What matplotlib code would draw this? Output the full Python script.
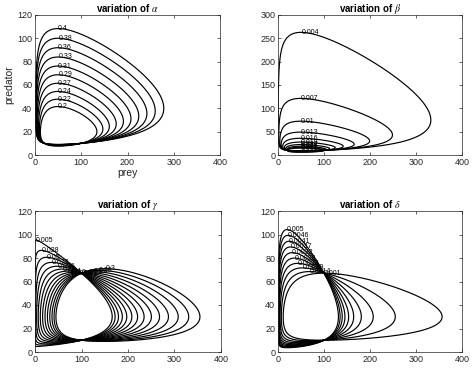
import numpy as np
import matplotlib.pyplot as plt

plt.rcParams['font.family'] = ['Liberation Sans', 'DejaVu Sans']
plt.rcParams['mathtext.fontset'] = 'stix'

# base parameters of the Lotka-Volterra model and start point (prey, predator)
alpha0, beta0, gamma0, delta0 = 0.3, 0.01, 0.1, 0.002
prey0, pred0 = 100.0, 10.0

# values swept in each panel
alpha_vals = [0.2, 0.2222, 0.2444, 0.2667, 0.2889, 0.3111, 0.3333, 0.3556, 0.3778, 0.4]
beta_vals = [0.004, 0.007, 0.010, 0.013, 0.016, 0.019, 0.022, 0.025, 0.028, 0.031]
gamma_vals = [0.005, 0.0277, 0.0504, 0.0731, 0.0958, 0.1185, 0.1412,
              0.1638, 0.1865, 0.2092, 0.2319, 0.2546, 0.2773, 0.3]
delta_vals = [0.005, 0.00456, 0.00411, 0.00367, 0.00322,
              0.00278, 0.00233, 0.00189, 0.00144, 0.001]


def orbits(a, b, g, d, dt=0.05, tmax=2500):
    # integrate in log coordinates, all curves at once (RK4)
    a, b, g, d = [np.asarray(p, float) for p in (a, b, g, d)]
    n = max(p.size for p in (a, b, g, d))
    a, b, g, d = [np.broadcast_to(p, (n,)) for p in (a, b, g, d)]

    def f(u, v):
        return a - b * np.exp(v), d * np.exp(u) - g

    u = np.full(n, np.log(prey0))
    v = np.full(n, np.log(pred0))
    steps = int(tmax / dt)
    U = np.empty((steps + 1, n))
    V = np.empty((steps + 1, n))
    U[0], V[0] = u, v
    for i in range(steps):
        k1u, k1v = f(u, v)
        k2u, k2v = f(u + dt / 2 * k1u, v + dt / 2 * k1v)
        k3u, k3v = f(u + dt / 2 * k2u, v + dt / 2 * k2v)
        k4u, k4v = f(u + dt * k3u, v + dt * k3v)
        u = u + dt / 6 * (k1u + 2 * k2u + 2 * k3u + k4u)
        v = v + dt / 6 * (k1v + 2 * k2v + 2 * k3v + k4v)
        U[i + 1], V[i + 1] = u, v

    us, vs = np.log(g / d), np.log(a / b)
    theta = np.unwrap(np.arctan2(V - vs, U - us), axis=0)
    out = []
    for j in range(n):
        done = np.nonzero(np.abs(theta[:, j] - theta[0, j]) >= 2 * np.pi)[0]
        k = done[0] + 1 if done.size else steps + 1
        out.append((np.exp(U[:k, j]), np.exp(V[:k, j])))
    return out


panels = [
    (r'variation of $\alpha$', alpha_vals, dict(a=alpha_vals, b=beta0, g=gamma0, d=delta0), 120, 20),
    (r'variation of $\beta$', beta_vals, dict(a=alpha0, b=beta_vals, g=gamma0, d=delta0), 300, 50),
    (r'variation of $\gamma$', gamma_vals, dict(a=alpha0, b=beta0, g=gamma_vals, d=delta0), 120, 20),
    (r'variation of $\delta$', delta_vals, dict(a=alpha0, b=beta0, g=gamma0, d=delta_vals), 120, 20),
]

W, H = 474, 372
boxes = [(35, 15, 220, 155), (278, 15, 462, 155), (35, 211, 221, 352), (278, 211, 462, 352)]

fig = plt.figure(figsize=(W / 100, H / 100), dpi=100)
dark = '#262626'

for (title, vals, pars, ymax, ystep), (x0, y0, x1, y1) in zip(panels, boxes):
    ax = fig.add_axes([x0 / W, 1 - y1 / H, (x1 - x0) / W, (y1 - y0) / H])
    for val, (x, y) in zip(vals, orbits(**pars)):
        ax.plot(x, y, color='black', lw=0.85)
        k = np.argmax(y)
        ax.text(x[k], y[k], f'{val:.2g}', fontsize=5, ha='left', va='center')
    ax.set_xlim(0, 400)
    ax.set_ylim(0, ymax)
    ax.set_xticks(np.arange(0, 401, 100))
    ax.set_yticks(np.arange(0, ymax + 1, ystep))
    ax.tick_params(direction='in', length=2, width=0.5, top=True, right=True,
                   labelsize=6.5, colors=dark, pad=2)
    for s in ax.spines.values():
        s.set_linewidth(0.5)
        s.set_color(dark)
    ax.set_title(title, fontsize=7, fontweight='bold', pad=2)
    if ax is fig.axes[0]:
        ax.set_xlabel('prey', fontsize=7.5, color=dark, labelpad=1)
        ax.set_ylabel('predator', fontsize=7.5, color=dark, labelpad=2)

fig.savefig('out.png', dpi=100)
